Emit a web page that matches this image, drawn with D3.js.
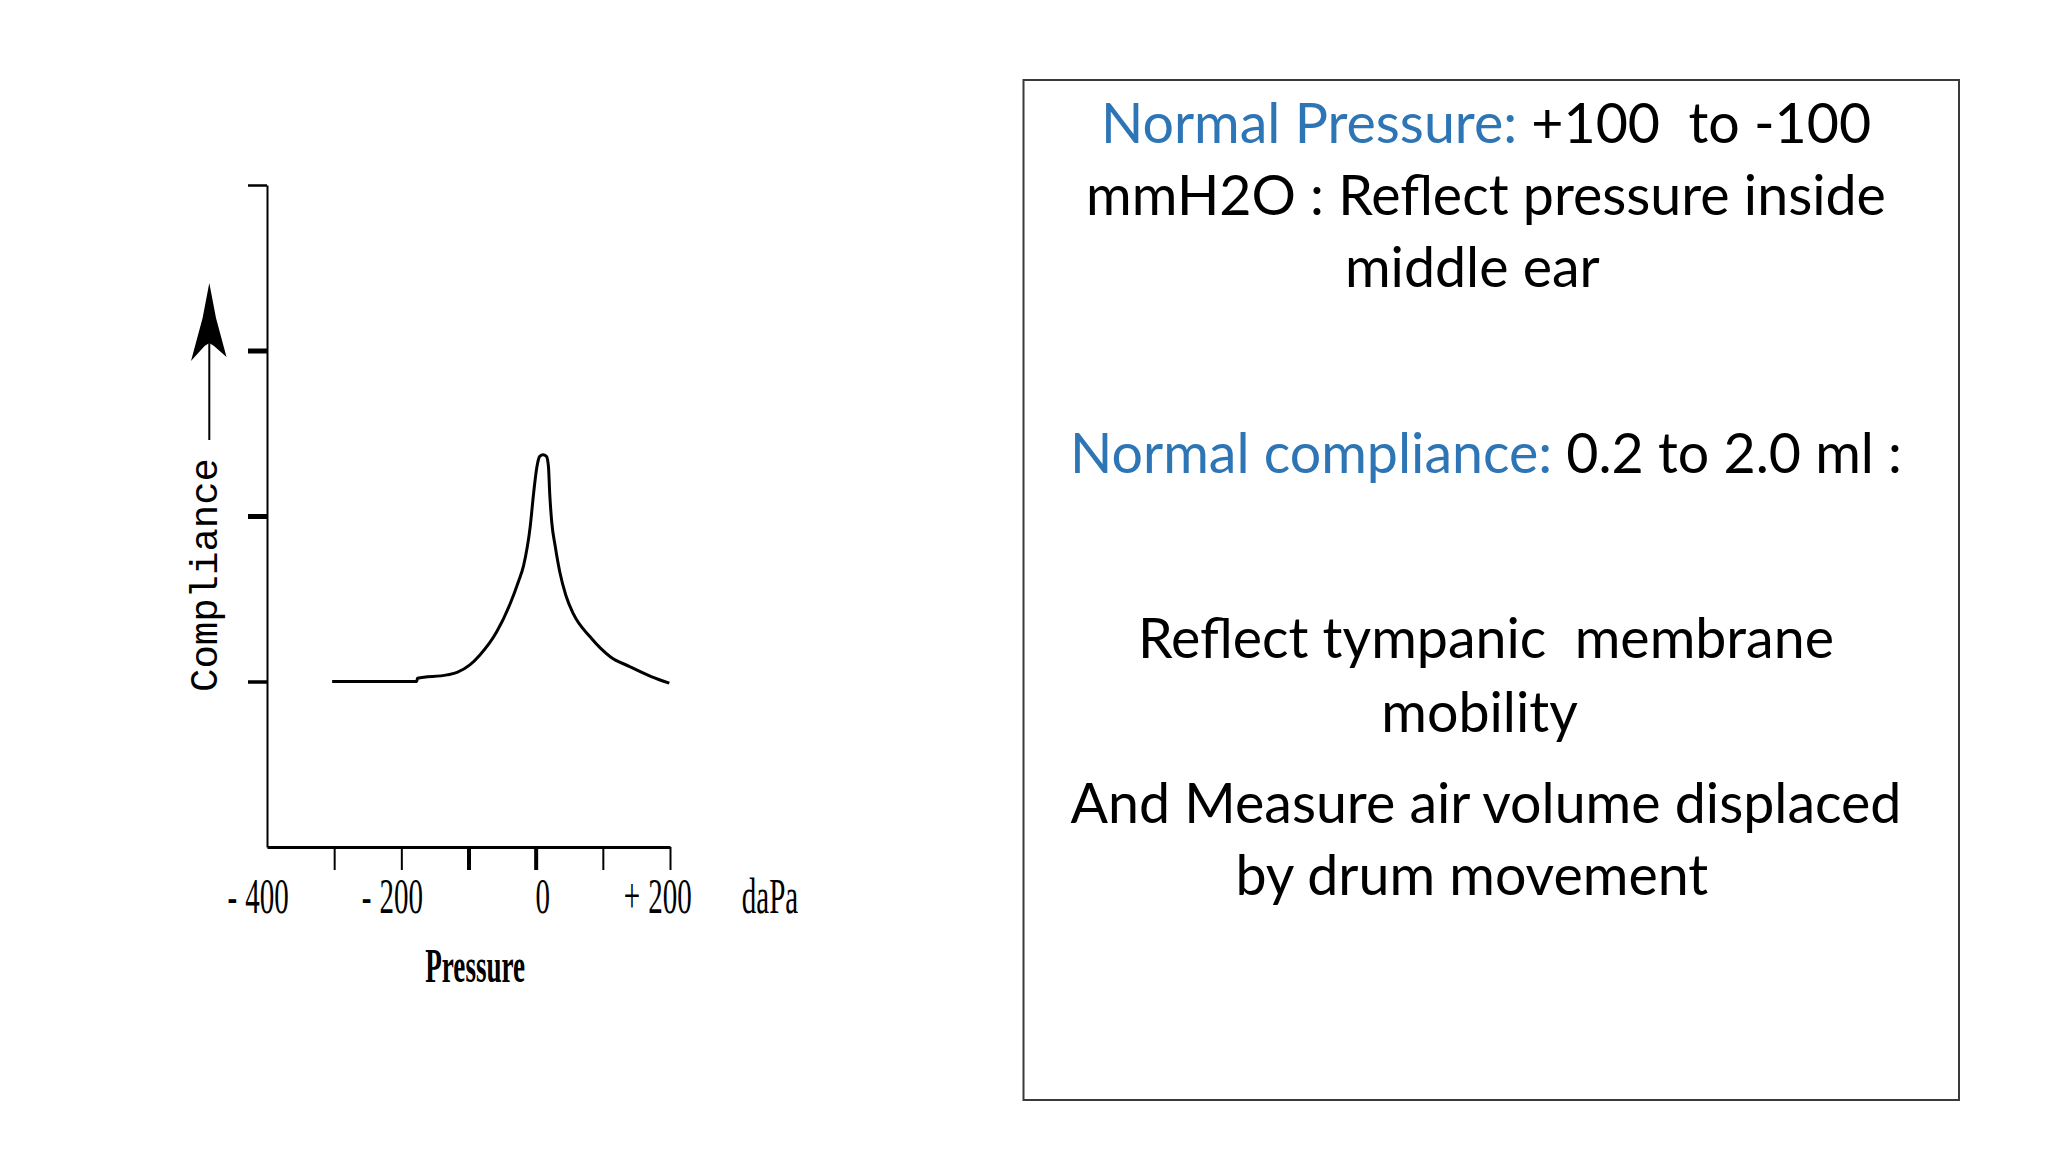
<!DOCTYPE html>
<html lang="en">
<head>
<meta charset="UTF-8">
<title>Tympanogram</title>
<script src="https://d3js.org/d3.v7.min.js"></script>
<style>
  body { margin: 0; background: #fff; }
  svg { display: block; background: #fff; }
  .note { white-space: pre; }
</style>
</head>
<body>
<svg width="2048" height="1152"></svg>
<script>
// tympanogram curve (daPa, compliance units)
const pressure   = [-303, -177, -176, -132, -117, -98, -83, -58, -38, -26, -18, -8, -3, 2, 6, 11, 16, 19, 21, 24, 29, 36, 45, 56, 81, 111, 140, 172, 199];
const compliance = [0, 0, 0.02, 0.04, 0.055, 0.10, 0.16, 0.30, 0.47, 0.60, 0.70, 0.94, 1.14, 1.30, 1.36, 1.37, 1.36, 1.30, 1.13, 0.96, 0.82, 0.66, 0.52, 0.41, 0.27, 0.15, 0.09, 0.03, -0.01];

const xTicks = [-300, -200, -100, 0, 100, 200];
const xThick = [-100, 0];
const xLabels = [-400, -200, 0, 200];
const yTicks = [0, 1, 2, 3];
const yThick = [1, 2];

// text of the note box, each line split into coloured runs
// (trailing spaces kept, they pull the centred line left like in the slide)
const noteLines = [
  [["Normal Pressure:", "blue"], [" +100  to -100", "black"]],
  [["mmH2O : Reflect pressure inside", "black"]],
  [["middle ear  ", "black"]],
  [["Normal compliance:", "blue"], [" 0.2 to 2.0 ml :", "black"]],
  [["Reflect tympanic  membrane", "black"]],
  [["mobility ", "black"]],
  [["And Measure air volume displaced", "black"]],
  [["by drum movement  ", "black"]]
];
const noteBaselines = [143, 215, 287, 473, 658, 732, 823, 895];

const svg = d3.select("svg");
const colors = { blue: "#2E75B6", black: "#000" };

const x = d3.scaleLinear().domain([-400, 200]).range([267, 670]);
const y = d3.scaleLinear().domain([-1, 3]).range([847, 185]);

// y axis, ticks pointing left
const yAxis = svg.append("g")
  .attr("transform", `translate(${x(-400)},0)`)
  .call(d3.axisLeft(y).tickValues(yTicks).tickSize(19).tickSizeOuter(0).tickFormat(""));
yAxis.select(".domain").attr("stroke", "#000").attr("stroke-width", 2);
yAxis.selectAll(".tick line")
  .attr("stroke", "#000")
  .attr("stroke-width", d => yThick.includes(d) ? 5 : (d === 0 ? 3.5 : 2.5));

// x axis, ticks pointing down
const xAxis = svg.append("g")
  .attr("transform", `translate(0,${y(-1)})`)
  .call(d3.axisBottom(x).tickValues(xTicks).tickSize(23).tickSizeOuter(0).tickFormat(""));
xAxis.select(".domain").attr("stroke", "#000").attr("stroke-width", 3);
xAxis.selectAll(".tick line")
  .attr("stroke", "#000")
  .attr("stroke-width", d => xThick.includes(d) ? 4 : 2);

// tick labels: narrow serif, digits centred on the tick, sign hanging left
const labelG = svg.append("g")
  .attr("font-family", "Liberation Serif, serif")
  .attr("font-size", 50)
  .attr("fill", "#000");
xLabels.forEach(v => {
  const shift = v === 0 ? 7 : 0; // the zero sits a little right of its tick
  const g = labelG.append("g").attr("transform", `translate(${x(v) + shift},913) scale(0.58,1)`);
  const num = g.append("text").attr("text-anchor", "middle").text(Math.abs(v));
  if (v !== 0) {
    const w = num.node().getComputedTextLength();
    g.append("text")
      .attr("text-anchor", "end")
      .attr("x", -w / 2 - 14)
      .text(v < 0 ? "-" : "+");
  }
});
labelG.append("g")
  .attr("transform", `translate(${x(200) + 100},913) scale(0.58,1)`)
  .append("text").attr("text-anchor", "middle").text("daPa");

svg.append("g")
  .attr("transform", `translate(${x(-90)},982) scale(0.565,1)`)
  .append("text")
  .attr("text-anchor", "middle")
  .attr("font-family", "Liberation Serif, serif")
  .attr("font-weight", "bold")
  .attr("font-size", 48)
  .text("Pressure");

// y label with its arrow
svg.append("text")
  .attr("transform", "translate(217,575) rotate(-90)")
  .attr("text-anchor", "middle")
  .attr("font-family", "Liberation Mono, monospace")
  .attr("font-size", 39)
  .attr("textLength", 234)
  .text("Compliance");

svg.append("line")
  .attr("x1", 209.3).attr("x2", 209.3)
  .attr("y1", 300).attr("y2", 440)
  .attr("stroke", "#000").attr("stroke-width", 2);
svg.append("path")
  .attr("d", "M209.3,283 L216,318 L226.5,357 L214,346 L209.3,343 L204.6,346 L191,361 L202.6,318 Z")
  .attr("fill", "#000");

// the curve
const curveData = pressure.map((p, i) => [p, compliance[i]]);
const line = d3.line()
  .x(d => x(d[0]))
  .y(d => y(d[1]))
  .curve(d3.curveMonotoneX);
svg.append("path")
  .datum(curveData)
  .attr("d", line)
  .attr("fill", "none")
  .attr("stroke", "#000")
  .attr("stroke-width", 3)
  .attr("stroke-linejoin", "round");

// note box
svg.append("rect")
  .attr("x", 1023.5).attr("y", 80)
  .attr("width", 935.5).attr("height", 1020)
  .attr("fill", "#fff")
  .attr("stroke", "#3a3a3a")
  .attr("stroke-width", 2);

const noteG = svg.append("g")
  .attr("font-family", "Lato, 'Open Sans', sans-serif")
  .attr("font-size", 55.5);
noteLines.forEach((runs, i) => {
  const t = noteG.append("text")
    .attr("class", "note")
    .attr("x", 1486)
    .attr("y", noteBaselines[i])
    .attr("text-anchor", "middle");
  runs.forEach(r => t.append("tspan").attr("fill", colors[r[1]]).text(r[0]));
});
</script>
</body>
</html>
